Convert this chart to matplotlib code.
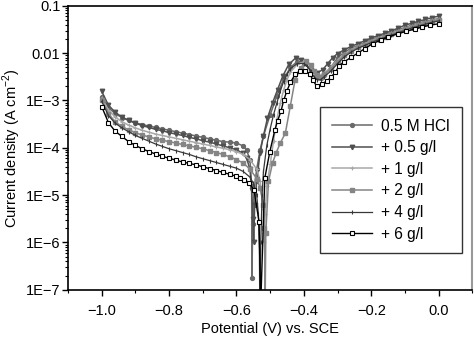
#!/usr/bin/env python3
"""Polarization curves of steel in 0.5 M HCl with inhibitor"""
import matplotlib
matplotlib.use('Agg')
import matplotlib.pyplot as plt
import numpy as np
from matplotlib.ticker import LogLocator, FixedLocator, FixedFormatter, MultipleLocator

# potentials (V vs SCE) and log10 of current density (A cm-2)
hcl_e = [-1.00, -0.98, -0.96, -0.94, -0.92, -0.90, -0.88, -0.86, -0.84, -0.82,
         -0.80, -0.78, -0.76, -0.74, -0.72, -0.70, -0.68, -0.66, -0.64, -0.62,
         -0.60, -0.58, -0.57, -0.56, -0.555, -0.554, -0.552, -0.548, -0.54,
         -0.53, -0.52, -0.50, -0.48, -0.46, -0.44, -0.42, -0.40, -0.38, -0.36,
         -0.35, -0.34, -0.32, -0.30, -0.28, -0.26, -0.24, -0.22, -0.20, -0.18,
         -0.16, -0.14, -0.12, -0.10, -0.08, -0.06, -0.04, -0.02, 0.00]
hcl_logi = [-2.92, -3.15, -3.28, -3.36, -3.42, -3.47, -3.51, -3.54, -3.57, -3.60,
            -3.63, -3.66, -3.69, -3.72, -3.75, -3.78, -3.81, -3.84, -3.87, -3.88,
            -3.90, -3.96, -4.05, -4.25, -4.80, -6.75, -5.60, -4.90, -4.45,
            -4.05, -3.75, -3.30, -2.90, -2.55, -2.30, -2.18, -2.20, -2.35, -2.50,
            -2.52, -2.47, -2.30, -2.10, -1.98, -1.90, -1.84, -1.78, -1.72, -1.66,
            -1.61, -1.56, -1.51, -1.46, -1.41, -1.37, -1.33, -1.30, -1.27]

g05_e = [-1.00, -0.98, -0.96, -0.94, -0.92, -0.90, -0.88, -0.86, -0.84, -0.82,
         -0.80, -0.78, -0.76, -0.74, -0.72, -0.70, -0.68, -0.66, -0.64, -0.62,
         -0.60, -0.58, -0.57, -0.56, -0.555, -0.551, -0.549, -0.546, -0.54,
         -0.53, -0.52, -0.508, -0.493, -0.478, -0.463, -0.445, -0.424, -0.409,
         -0.394, -0.379, -0.362, -0.344, -0.329, -0.315, -0.30, -0.28, -0.26,
         -0.24, -0.22, -0.20, -0.18, -0.16, -0.14, -0.12, -0.10, -0.08, -0.06,
         -0.04, -0.02, 0.00]
g05_logi = [-2.81, -3.10, -3.25, -3.35, -3.42, -3.48, -3.53, -3.57, -3.61, -3.64,
            -3.68, -3.71, -3.74, -3.78, -3.81, -3.85, -3.88, -3.92, -3.96, -4.00,
            -4.04, -4.12, -4.22, -4.45, -4.90, -5.50, -6.00, -5.20, -4.70,
            -4.10, -3.75, -3.37, -3.05, -2.77, -2.49, -2.24, -2.10, -2.14,
            -2.24, -2.36, -2.42, -2.35, -2.22, -2.10, -2.01, -1.93, -1.86,
            -1.80, -1.74, -1.68, -1.63, -1.58, -1.53, -1.47, -1.41, -1.37, -1.33,
            -1.29, -1.25, -1.22]

g1_e = [-1.00, -0.98, -0.96, -0.94, -0.92, -0.90, -0.88, -0.86, -0.84, -0.82,
        -0.80, -0.78, -0.76, -0.74, -0.72, -0.70, -0.68, -0.66, -0.64, -0.62,
        -0.60, -0.58, -0.56, -0.54, -0.53, -0.52, -0.519, -0.518, -0.515,
        -0.51, -0.50, -0.49, -0.48, -0.47, -0.46, -0.45, -0.44, -0.42, -0.40,
        -0.39, -0.38, -0.37, -0.36, -0.35, -0.34, -0.32, -0.30, -0.28, -0.26,
        -0.24, -0.22, -0.20, -0.18, -0.16, -0.14, -0.12, -0.10, -0.08, -0.06,
        -0.04, -0.02, 0.00]
g1_logi = [-2.95, -3.20, -3.35, -3.45, -3.52, -3.58, -3.63, -3.67, -3.71, -3.74,
           -3.77, -3.80, -3.83, -3.86, -3.89, -3.92, -3.95, -3.98, -4.01, -4.04,
           -4.08, -4.14, -4.25, -4.45, -4.70, -5.30, -5.80, -6.00, -5.40,
           -4.80, -4.35, -3.85, -3.40, -3.05, -2.78, -2.56, -2.40, -2.24, -2.18,
           -2.20, -2.30, -2.42, -2.48, -2.47, -2.42, -2.30, -2.15, -2.02, -1.93,
           -1.86, -1.80, -1.74, -1.68, -1.63, -1.58, -1.53, -1.48, -1.43, -1.39,
           -1.35, -1.31, -1.28]

g2_e = [-1.00, -0.98, -0.96, -0.94, -0.92, -0.90, -0.88, -0.86, -0.84, -0.82,
        -0.80, -0.78, -0.76, -0.74, -0.72, -0.70, -0.68, -0.66, -0.64, -0.62,
        -0.60, -0.58, -0.56, -0.54, -0.53, -0.52, -0.517, -0.515, -0.513,
        -0.505, -0.493, -0.482, -0.470, -0.455, -0.440, -0.426, -0.409, -0.394,
        -0.38, -0.37, -0.36, -0.35, -0.34, -0.32, -0.30, -0.28, -0.26, -0.24,
        -0.22, -0.20, -0.18, -0.16, -0.14, -0.12, -0.10, -0.08, -0.06, -0.04,
        -0.02, 0.00]
g2_logi = [-2.98, -3.28, -3.45, -3.55, -3.62, -3.68, -3.73, -3.77, -3.81, -3.84,
           -3.87, -3.90, -3.93, -3.96, -3.99, -4.02, -4.06, -4.10, -4.14, -4.19,
           -4.25, -4.32, -4.45, -4.65, -4.85, -5.20, -5.70, -7.30, -5.80,
           -4.71, -4.32, -4.10, -3.90, -3.69, -3.11, -2.56, -2.31, -2.17,
           -2.25, -2.38, -2.47, -2.50, -2.45, -2.33, -2.18, -2.05, -1.95, -1.88,
           -1.82, -1.76, -1.70, -1.65, -1.60, -1.55, -1.50, -1.45, -1.41, -1.37,
           -1.33, -1.30]

g4_e = [-1.00, -0.98, -0.96, -0.94, -0.92, -0.90, -0.88, -0.86, -0.84, -0.82,
        -0.80, -0.78, -0.76, -0.74, -0.72, -0.70, -0.68, -0.66, -0.64, -0.62,
        -0.60, -0.58, -0.56, -0.55, -0.54, -0.535, -0.532, -0.531, -0.528,
        -0.524, -0.52, -0.51, -0.50, -0.49, -0.48, -0.47, -0.46, -0.45, -0.44,
        -0.42, -0.40, -0.39, -0.38, -0.37, -0.36, -0.35, -0.34, -0.32, -0.30,
        -0.28, -0.26, -0.24, -0.22, -0.20, -0.18, -0.16, -0.14, -0.12, -0.10,
        -0.08, -0.06, -0.04, -0.02, 0.00]
g4_logi = [-3.02, -3.32, -3.48, -3.58, -3.66, -3.74, -3.80, -3.86, -3.92, -3.97,
           -4.02, -4.06, -4.10, -4.14, -4.19, -4.23, -4.27, -4.31, -4.35, -4.39,
           -4.43, -4.50, -4.62, -4.75, -5.00, -5.40, -6.20, -7.30, -6.00,
           -5.00, -4.50, -3.95, -3.60, -3.30, -3.05, -2.80, -2.60, -2.45, -2.33,
           -2.22, -2.22, -2.28, -2.38, -2.50, -2.57, -2.56, -2.50, -2.38, -2.22,
           -2.08, -1.98, -1.90, -1.84, -1.78, -1.72, -1.67, -1.62, -1.57, -1.52,
           -1.47, -1.43, -1.39, -1.35, -1.32]

g6_e = [-1.00, -0.98, -0.96, -0.94, -0.92, -0.90, -0.88, -0.86, -0.84, -0.82,
        -0.80, -0.78, -0.76, -0.74, -0.72, -0.70, -0.68, -0.66, -0.64, -0.62,
        -0.60, -0.59, -0.577, -0.562, -0.548, -0.533, -0.528, -0.516, -0.501,
        -0.486, -0.478, -0.468, -0.460, -0.451, -0.440, -0.426, -0.411, -0.396,
        -0.382, -0.374, -0.362, -0.346, -0.332, -0.319, -0.307, -0.295, -0.282,
        -0.26, -0.24, -0.22, -0.196, -0.17, -0.15, -0.12, -0.096, -0.07, -0.05,
        -0.025, 0.00]
g6_logi = [-3.13, -3.47, -3.65, -3.76, -3.87, -3.95, -4.02, -4.08, -4.13, -4.18,
           -4.22, -4.26, -4.30, -4.33, -4.36, -4.40, -4.44, -4.48, -4.52, -4.56,
           -4.60, -4.63, -4.67, -4.74, -4.90, -5.56, -7.30, -4.64, -4.08,
           -3.62, -3.43, -3.23, -3.00, -2.81, -2.62, -2.45, -2.37, -2.37,
           -2.44, -2.56, -2.70, -2.65, -2.59, -2.51, -2.40, -2.27, -2.19,
           -2.09, -2.00, -1.91, -1.80, -1.72, -1.66, -1.59, -1.54, -1.49, -1.45,
           -1.41, -1.38]

labels = ['0.5 M HCl', '+ 0.5 g/l', '+ 1 g/l', '+ 2 g/l', '+ 4 g/l', '+ 6 g/l']
ytick_labels = ['1E\u22127', '1E\u22126', '1E\u22125', '1E\u22124', '1E\u22123',
                '0.01', '0.1']

plt.rcParams['font.family'] = ['Liberation Sans', 'DejaVu Sans']
plt.rcParams['font.size'] = 10.5

fig = plt.figure(figsize=(4.74, 3.39), dpi=100)
ax = fig.add_axes([0.1435, 0.145, 0.853, 0.838])

series = [
    (hcl_e, hcl_logi, dict(color='#6a6a6a', marker='o', ms=2.8, mfc='#6a6a6a', lw=1.1)),
    (g05_e, g05_logi, dict(color='#505050', marker='v', ms=3.2, mfc='#505050', lw=1.1)),
    (g1_e, g1_logi, dict(color='#a8a8a8', marker='+', ms=3.0, mew=0.8, lw=1.1)),
    (g2_e, g2_logi, dict(color='#858585', marker='s', ms=2.6, mfc='#858585', lw=1.1)),
    (g4_e, g4_logi, dict(color='#383838', marker='|', ms=3.0, mew=0.8, lw=0.9)),
    (g6_e, g6_logi, dict(color='black', marker='s', ms=3.0, mfc='white', mew=0.8, lw=1.0)),
]
for (e, logi, style), lab in zip(series, labels):
    ax.plot(e, 10.0 ** np.array(logi), label=lab, **style)

ax.set_yscale('log')
ax.set_xlim(-1.1, 0.1)
ax.set_ylim(1e-7, 0.1)
ax.set_xticks([-1.0, -0.8, -0.6, -0.4, -0.2, 0.0])
ax.set_xticklabels(['\u22121.0', '\u22120.8', '\u22120.6', '\u22120.4', '\u22120.2', '0.0'])
ax.xaxis.set_minor_locator(MultipleLocator(0.1))
ax.yaxis.set_major_locator(FixedLocator([1e-7, 1e-6, 1e-5, 1e-4, 1e-3, 1e-2, 1e-1]))
ax.yaxis.set_major_formatter(FixedFormatter(ytick_labels))
ax.yaxis.set_minor_locator(LogLocator(base=10, subs=np.arange(2, 10), numticks=20))
ax.tick_params(which='major', direction='out', length=4, width=1.0)
ax.tick_params(which='minor', direction='out', length=2, width=0.8)
ax.tick_params(axis='x', which='major', pad=6)
ax.tick_params(axis='y', which='major', pad=1.5)
ax.tick_params(axis='x', which='both', top=False)
ax.tick_params(axis='y', which='both', right=False)

for side in ['left', 'bottom', 'top']:
    ax.spines[side].set_linewidth(1.2)
ax.spines['right'].set_color('#999999')
ax.spines['right'].set_linewidth(1.5)

ax.set_xlabel('Potential (V) vs. SCE', labelpad=3)
ax.set_ylabel('Current density (A cm$^{\\mathregular{\u22122}}$)', labelpad=2)

leg = ax.legend(loc='upper left', bbox_to_anchor=(0.623, 0.643), borderaxespad=0,
                frameon=True, fancybox=False, edgecolor='black', handlelength=2.6,
                labelspacing=0.42, borderpad=0.75, handletextpad=0.6,
                fontsize=11.2)
leg.get_frame().set_linewidth(1.0)

fig.savefig('out.png', dpi=100)
